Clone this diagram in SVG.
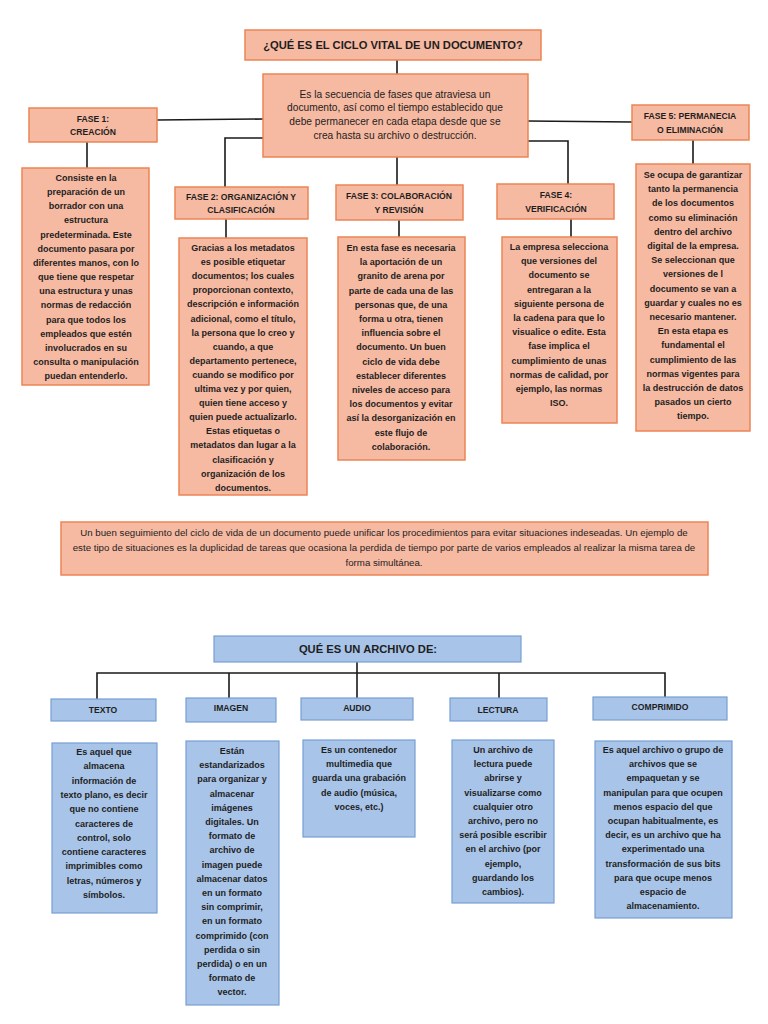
<svg xmlns="http://www.w3.org/2000/svg" width="768" height="1024" viewBox="0 0 768 1024">
<style>
.o{fill:#F6B9A2;stroke:#EC8554;stroke-width:1.5}
.b{fill:#A8C4E8;stroke:#789FD2;stroke-width:1.2}
.t{font-family:"Liberation Sans",Arial,sans-serif;font-weight:bold;font-size:9px;fill:#1e1e1e;text-anchor:middle}
.h{font-family:"Liberation Sans",Arial,sans-serif;font-weight:bold;font-size:8.6px;fill:#1e1e1e;text-anchor:middle}
.n{font-family:"Liberation Sans",Arial,sans-serif;font-size:10.2px;fill:#1e1e1e;text-anchor:middle}
.s{font-family:"Liberation Sans",Arial,sans-serif;font-size:9.7px;fill:#1e1e1e;text-anchor:middle}
.ti{font-family:"Liberation Sans",Arial,sans-serif;font-weight:bold;font-size:11.2px;fill:#1e1e1e;text-anchor:middle}
.c{fill:none;stroke:#1a1a1a;stroke-width:1.6}
</style>
<rect width="768" height="1024" fill="#ffffff"/>
<g id="connectors">
<path class="c" d="M397 60V74"/>
<path class="c" d="M157 120L263 119"/>
<path class="c" d="M528 121L632 122"/>
<path class="c" d="M263 138H225V187"/>
<path class="c" d="M528 141H568V184"/>
<path class="c" d="M397 157V185"/>
<path class="c" d="M87 142V168"/>
<path class="c" d="M226 219V238"/>
<path class="c" d="M399 220V237"/>
<path class="c" d="M571 219V237"/>
<path class="c" d="M693 140V164"/>
<path class="c" d="M357 662V698"/>
<path class="c" d="M97 699V673H665V697"/>
<path class="c" d="M229 673V698"/>
<path class="c" d="M499 673V698"/>
</g>
<g id="title">
<rect class="o" x="245" y="30" width="296" height="30"/>
<text class="ti" x="393" y="49">¿QUÉ ES EL CICLO VITAL DE UN DOCUMENTO?</text>
</g>
<g id="definicion">
<rect class="o" x="263" y="74" width="265" height="83"/>
<text class="n" x="395" y="97.5"><tspan x="395">Es la secuencia de fases que atraviesa un</tspan><tspan x="395" dy="13.8">documento, así como el tiempo establecido que</tspan><tspan x="395" dy="13.8">debe permanecer en cada etapa desde que se</tspan><tspan x="395" dy="13.8">crea hasta su archivo o destrucción.</tspan></text>
</g>
<g id="fase1">
<rect class="o" x="29" y="108" width="128" height="34"/>
<text class="h" x="93" y="122"><tspan x="93">FASE 1:</tspan><tspan x="93" dy="13">CREACIÓN</tspan></text>
</g>
<g id="fase1-texto">
<rect class="o" x="22" y="168" width="127" height="217"/>
<text class="t" x="86" y="181"><tspan x="86">Consiste en la</tspan><tspan x="86" dy="14.15">preparación de un</tspan><tspan x="86" dy="14.15">borrador con una</tspan><tspan x="86" dy="14.15">estructura</tspan><tspan x="86" dy="14.15">predeterminada. Este</tspan><tspan x="86" dy="14.15">documento pasara por</tspan><tspan x="86" dy="14.15">diferentes manos, con lo</tspan><tspan x="86" dy="14.15">que tiene que respetar</tspan><tspan x="86" dy="14.15">una estructura y unas</tspan><tspan x="86" dy="14.15">normas de redacción</tspan><tspan x="86" dy="14.15">para que todos los</tspan><tspan x="86" dy="14.15">empleados que estén</tspan><tspan x="86" dy="14.15">involucrados en su</tspan><tspan x="86" dy="14.15">consulta o manipulación</tspan><tspan x="86" dy="14.15">puedan entenderlo.</tspan></text>
</g>
<g id="fase2">
<rect class="o" x="175" y="187" width="133" height="32"/>
<text class="h" x="241" y="199.5"><tspan x="241">FASE 2: ORGANIZACIÓN Y</tspan><tspan x="241" dy="13.5">CLASIFICACIÓN</tspan></text>
</g>
<g id="fase2-texto">
<rect class="o" x="179" y="238" width="128" height="257"/>
<text class="t" x="243" y="251"><tspan x="243">Gracias a los metadatos</tspan><tspan x="243" dy="14.1">es posible etiquetar</tspan><tspan x="243" dy="14.1">documentos; los cuales</tspan><tspan x="243" dy="14.1">proporcionan contexto,</tspan><tspan x="243" dy="14.1">descripción e información</tspan><tspan x="243" dy="14.1">adicional, como el título,</tspan><tspan x="243" dy="14.1">la persona que lo creo y</tspan><tspan x="243" dy="14.1">cuando, a que</tspan><tspan x="243" dy="14.1">departamento pertenece,</tspan><tspan x="243" dy="14.1">cuando se modifico por</tspan><tspan x="243" dy="14.1">ultima vez y por quien,</tspan><tspan x="243" dy="14.1">quien tiene acceso y</tspan><tspan x="243" dy="14.1">quien puede actualizarlo.</tspan><tspan x="243" dy="14.1">Estas etiquetas o</tspan><tspan x="243" dy="14.1">metadatos dan lugar a la</tspan><tspan x="243" dy="14.1">clasificación y</tspan><tspan x="243" dy="14.1">organización de los</tspan><tspan x="243" dy="14.1">documentos.</tspan></text>
</g>
<g id="fase3">
<rect class="o" x="336" y="185" width="127" height="35"/>
<text class="h" x="399" y="199"><tspan x="399">FASE 3: COLABORACIÓN</tspan><tspan x="399" dy="14">Y REVISIÓN</tspan></text>
</g>
<g id="fase3-texto">
<rect class="o" x="338" y="237" width="127" height="223"/>
<text class="t" x="401" y="251"><tspan x="401">En esta fase es necesaria</tspan><tspan x="401" dy="14.2">la aportación de un</tspan><tspan x="401" dy="14.2">granito de arena por</tspan><tspan x="401" dy="14.2">parte de cada una de las</tspan><tspan x="401" dy="14.2">personas que, de una</tspan><tspan x="401" dy="14.2">forma u otra, tienen</tspan><tspan x="401" dy="14.2">influencia sobre el</tspan><tspan x="401" dy="14.2">documento. Un buen</tspan><tspan x="401" dy="14.2">ciclo de vida debe</tspan><tspan x="401" dy="14.2">establecer diferentes</tspan><tspan x="401" dy="14.2">niveles de acceso para</tspan><tspan x="401" dy="14.2">los documentos y evitar</tspan><tspan x="401" dy="14.2">así la desorganización en</tspan><tspan x="401" dy="14.2">este flujo de</tspan><tspan x="401" dy="14.2">colaboración.</tspan></text>
</g>
<g id="fase4">
<rect class="o" x="497" y="184" width="117" height="35"/>
<text class="h" x="556" y="197.5"><tspan x="556">FASE 4:</tspan><tspan x="556" dy="14">VERIFICACIÓN</tspan></text>
</g>
<g id="fase4-texto">
<rect class="o" x="502" y="237" width="115" height="186"/>
<text class="t" x="559" y="250"><tspan x="559">La empresa selecciona</tspan><tspan x="559" dy="14.2">que versiones del</tspan><tspan x="559" dy="14.2">documento se</tspan><tspan x="559" dy="14.2">entregaran a la</tspan><tspan x="559" dy="14.2">siguiente persona de</tspan><tspan x="559" dy="14.2">la cadena para que lo</tspan><tspan x="559" dy="14.2">visualice o edite. Esta</tspan><tspan x="559" dy="14.2">fase implica el</tspan><tspan x="559" dy="14.2">cumplimiento de unas</tspan><tspan x="559" dy="14.2">normas de calidad, por</tspan><tspan x="559" dy="14.2">ejemplo, las normas</tspan><tspan x="559" dy="14.2">ISO.</tspan></text>
</g>
<g id="fase5">
<rect class="o" x="632" y="105" width="117" height="35"/>
<text class="h" x="690" y="119"><tspan x="690">FASE 5: PERMANECIA</tspan><tspan x="690" dy="14">O ELIMINACIÓN</tspan></text>
</g>
<g id="fase5-texto">
<rect class="o" x="636" y="164" width="114" height="267"/>
<text class="t" x="693" y="178"><tspan x="693">Se ocupa de garantizar</tspan><tspan x="693" dy="14.2">tanto la permanencia</tspan><tspan x="693" dy="14.2">de los documentos</tspan><tspan x="693" dy="14.2">como su eliminación</tspan><tspan x="693" dy="14.2">dentro del archivo</tspan><tspan x="693" dy="14.2">digital de la empresa.</tspan><tspan x="693" dy="14.2">Se seleccionan que</tspan><tspan x="693" dy="14.2">versiones de l</tspan><tspan x="693" dy="14.2">documento se van a</tspan><tspan x="693" dy="14.2">guardar y cuales no es</tspan><tspan x="693" dy="14.2">necesario mantener.</tspan><tspan x="693" dy="14.2">En esta etapa es</tspan><tspan x="693" dy="14.2">fundamental el</tspan><tspan x="693" dy="14.2">cumplimiento de las</tspan><tspan x="693" dy="14.2">normas vigentes para</tspan><tspan x="693" dy="14.2">la destrucción de datos</tspan><tspan x="693" dy="14.2">pasados un cierto</tspan><tspan x="693" dy="14.2">tiempo.</tspan></text>
</g>
<g id="resumen">
<rect class="o" x="61" y="522" width="647" height="53"/>
<text class="s" x="384" y="535.5"><tspan x="384">Un buen seguimiento del ciclo de vida de un documento puede unificar los procedimientos para evitar situaciones indeseadas. Un ejemplo de</tspan><tspan x="384" dy="15">este tipo de situaciones es la duplicidad de tareas que ocasiona la perdida de tiempo por parte de varios empleados al realizar la misma tarea de</tspan><tspan x="384" dy="15">forma simultánea.</tspan></text>
</g>
<g id="archivo-titulo">
<rect class="b" x="214" y="636" width="307" height="26"/>
<text class="ti" x="368" y="653">QUÉ ES UN ARCHIVO DE:</text>
</g>
<g id="texto">
<rect class="b" x="51" y="699" width="105" height="22"/>
<text class="h" x="103" y="713">TEXTO</text>
</g>
<g id="imagen">
<rect class="b" x="186" y="698" width="90" height="24"/>
<text class="h" x="231" y="711">IMAGEN</text>
</g>
<g id="audio">
<rect class="b" x="301" y="698" width="112" height="22"/>
<text class="h" x="357" y="711">AUDIO</text>
</g>
<g id="lectura">
<rect class="b" x="450" y="698" width="97" height="23"/>
<text class="h" x="498" y="713">LECTURA</text>
</g>
<g id="comprimido">
<rect class="b" x="593" y="697" width="134" height="23"/>
<text class="h" x="660" y="709.5">COMPRIMIDO</text>
</g>
<g id="texto-desc">
<rect class="b" x="52" y="743" width="105" height="170"/>
<text class="t" x="104" y="755"><tspan x="104">Es aquel que</tspan><tspan x="104" dy="14.3">almacena</tspan><tspan x="104" dy="14.3">información de</tspan><tspan x="104" dy="14.3">texto plano, es decir</tspan><tspan x="104" dy="14.3">que no contiene</tspan><tspan x="104" dy="14.3">caracteres de</tspan><tspan x="104" dy="14.3">control, solo</tspan><tspan x="104" dy="14.3">contiene caracteres</tspan><tspan x="104" dy="14.3">imprimibles como</tspan><tspan x="104" dy="14.3">letras, números y</tspan><tspan x="104" dy="14.3">símbolos.</tspan></text>
</g>
<g id="imagen-desc">
<rect class="b" x="186" y="741" width="93" height="264"/>
<text class="t" x="232" y="754"><tspan x="232">Están</tspan><tspan x="232" dy="14.2">estandarizados</tspan><tspan x="232" dy="14.2">para organizar y</tspan><tspan x="232" dy="14.2">almacenar</tspan><tspan x="232" dy="14.2">imágenes</tspan><tspan x="232" dy="14.2">digitales. Un</tspan><tspan x="232" dy="14.2">formato de</tspan><tspan x="232" dy="14.2">archivo de</tspan><tspan x="232" dy="14.2">imagen puede</tspan><tspan x="232" dy="14.2">almacenar datos</tspan><tspan x="232" dy="14.2">en un formato</tspan><tspan x="232" dy="14.2">sin comprimir,</tspan><tspan x="232" dy="14.2">en un formato</tspan><tspan x="232" dy="14.2">comprimido (con</tspan><tspan x="232" dy="14.2">perdida o sin</tspan><tspan x="232" dy="14.2">perdida) o en un</tspan><tspan x="232" dy="14.2">formato de</tspan><tspan x="232" dy="14.2">vector.</tspan></text>
</g>
<g id="audio-desc">
<rect class="b" x="303" y="740" width="112" height="97"/>
<text class="t" x="359" y="753"><tspan x="359">Es un contenedor</tspan><tspan x="359" dy="14.2">multimedia que</tspan><tspan x="359" dy="14.2">guarda una grabación</tspan><tspan x="359" dy="14.2">de audio (música,</tspan><tspan x="359" dy="14.2">voces, etc.)</tspan></text>
</g>
<g id="lectura-desc">
<rect class="b" x="452" y="740" width="102" height="163"/>
<text class="t" x="503" y="753"><tspan x="503">Un archivo de</tspan><tspan x="503" dy="14.2">lectura puede</tspan><tspan x="503" dy="14.2">abrirse y</tspan><tspan x="503" dy="14.2">visualizarse como</tspan><tspan x="503" dy="14.2">cualquier otro</tspan><tspan x="503" dy="14.2">archivo, pero no</tspan><tspan x="503" dy="14.2">será posible escribir</tspan><tspan x="503" dy="14.2">en el archivo (por</tspan><tspan x="503" dy="14.2">ejemplo,</tspan><tspan x="503" dy="14.2">guardando los</tspan><tspan x="503" dy="14.2">cambios).</tspan></text>
</g>
<g id="comprimido-desc">
<rect class="b" x="595" y="741" width="137" height="177"/>
<text class="t" x="663" y="753"><tspan x="663">Es aquel archivo o grupo de</tspan><tspan x="663" dy="14.2">archivos que se</tspan><tspan x="663" dy="14.2">empaquetan y se</tspan><tspan x="663" dy="14.2">manipulan para que ocupen</tspan><tspan x="663" dy="14.2">menos espacio del que</tspan><tspan x="663" dy="14.2">ocupan habitualmente, es</tspan><tspan x="663" dy="14.2">decir, es un archivo que ha</tspan><tspan x="663" dy="14.2">experimentado una</tspan><tspan x="663" dy="14.2">transformación de sus bits</tspan><tspan x="663" dy="14.2">para que ocupe menos</tspan><tspan x="663" dy="14.2">espacio de</tspan><tspan x="663" dy="14.2">almacenamiento.</tspan></text>
</g>
</svg>
